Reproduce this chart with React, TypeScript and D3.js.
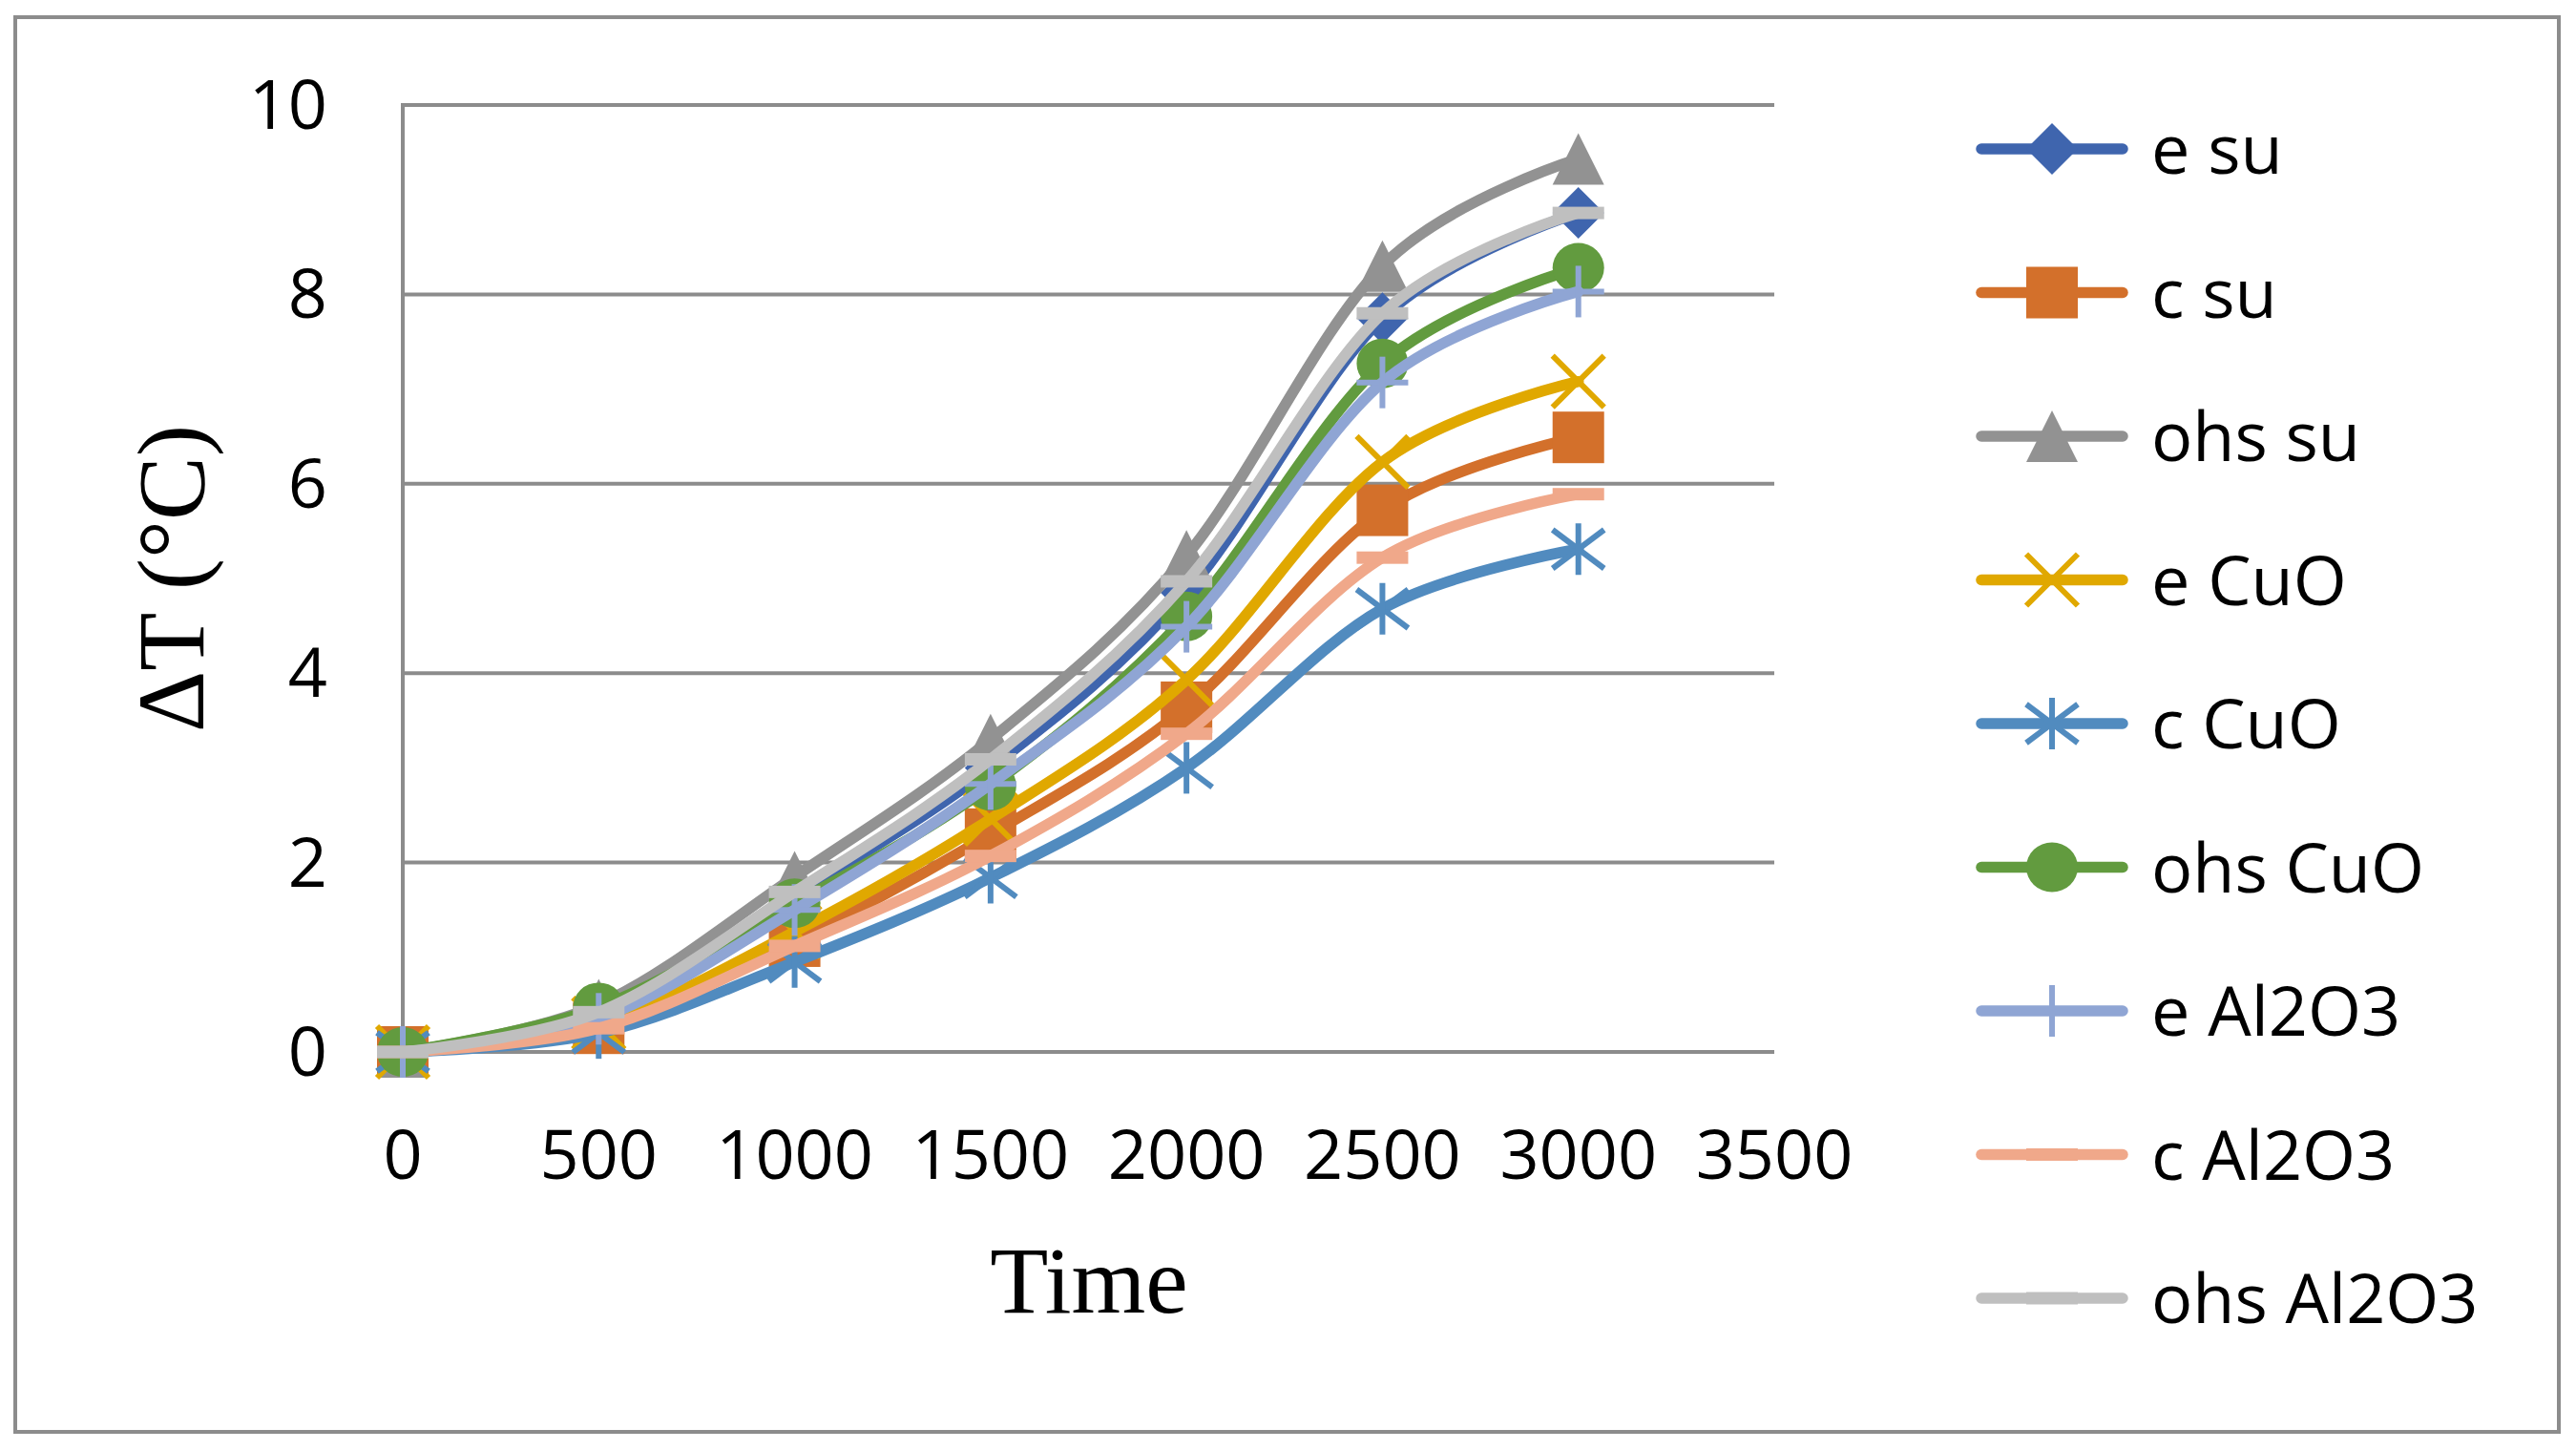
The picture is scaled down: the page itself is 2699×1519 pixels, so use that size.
import React from 'react';
import * as d3 from 'd3';

// time steps on the x axis
const times = [0, 500, 1000, 1500, 2000, 2500, 3000];

// delta T series (°C)
const eSu = [0, 0.4, 1.65, 3.0, 4.85, 7.75, 8.86];
const cSu = [0, 0.25, 1.17, 2.3, 3.64, 5.72, 6.49];
const ohsSu = [0, 0.5, 1.85, 3.3, 5.24, 8.3, 9.43];
const eCuO = [0, 0.3, 1.27, 2.46, 3.93, 6.23, 7.08];
const cCuO = [0, 0.2, 0.95, 1.84, 3.0, 4.68, 5.31];
const ohsCuO = [0, 0.47, 1.57, 2.81, 4.6, 7.27, 8.28];
const eAl2O3 = [0, 0.35, 1.5, 2.83, 4.49, 7.07, 8.03];
const cAl2O3 = [0, 0.25, 1.12, 2.07, 3.36, 5.22, 5.89];
const ohsAl2O3 = [0, 0.42, 1.69, 3.09, 4.97, 7.8, 8.86];

const seriesNames = ['e su', 'c su', 'ohs su', 'e CuO', 'c CuO', 'ohs CuO', 'e Al2O3', 'c Al2O3', 'ohs Al2O3'];
const seriesValues = [eSu, cSu, ohsSu, eCuO, cCuO, ohsCuO, eAl2O3, cAl2O3, ohsAl2O3];
const seriesColors = ['#3F65AE', '#D3702B', '#929292', '#E0A800', '#518BBF', '#629B3F', '#8FA5D4', '#F0A88A', '#BFBFBF'];
const seriesMarkers = ['diamond', 'square', 'triangle', 'x', 'star', 'circle', 'plus', 'dash', 'dash'];

const xTicks = [0, 500, 1000, 1500, 2000, 2500, 3000, 3500];
const yTicks = [0, 2, 4, 6, 8, 10];

const W = 2699;
const H = 1519;
const plot = { left: 422, right: 1859, top: 110, bottom: 1102 };
const gridColor = '#8C8C8C';
const tickFont = "'Open Sans', 'Noto Sans', sans-serif";
const titleFont = "'Liberation Serif', 'Times New Roman', serif";

const Marker = ({ type, color, x, y }) => {
    const r = 27;
    const t = `translate(${x},${y})`;
    if (type === 'diamond') return <path transform={t} d={`M0,${-r}L${r},0L0,${r}L${-r},0Z`} fill={color} />;
    if (type === 'square') return <rect transform={t} x={-r} y={-r} width={2 * r} height={2 * r} fill={color} />;
    if (type === 'triangle') return <path transform={t} d={`M0,${-r}L${r},${r}L${-r},${r}Z`} fill={color} />;
    if (type === 'circle') return <ellipse transform={t} rx={r} ry={r - 1} fill={color} />;
    if (type === 'dash') return <rect transform={t} x={-r} y={-6.5} width={2 * r} height={13} fill={color} />;
    const sw = 6;
    if (type === 'x') {
        return (
            <g transform={t} stroke={color} strokeWidth={sw}>
                <line x1={-r} y1={-r} x2={r} y2={r} />
                <line x1={-r} y1={r} x2={r} y2={-r} />
            </g>
        );
    }
    if (type === 'star') {
        return (
            <g transform={t} stroke={color} strokeWidth={sw}>
                <line x1={-r} y1={-r * 0.75} x2={r} y2={r * 0.75} />
                <line x1={-r} y1={r * 0.75} x2={r} y2={-r * 0.75} />
                <line x1={0} y1={-r} x2={0} y2={r} />
            </g>
        );
    }
    // plus
    return (
        <g transform={t} stroke={color} strokeWidth={sw}>
            <line x1={-r} y1={0} x2={r} y2={0} />
            <line x1={0} y1={-r} x2={0} y2={r} />
        </g>
    );
};

export default function App() {
    const x = d3.scaleLinear().domain([0, 3500]).range([plot.left, plot.right]);
    const y = d3.scaleLinear().domain([0, 10]).range([plot.bottom, plot.top]);

    const line = d3.line<number>()
        .x((_, i) => x(times[i]))
        .y(d => y(d))
        .curve(d3.curveCardinal.tension(0));

    const legendX = 2076;
    const legendTop = 156;
    const legendStep = 150.5;

    return (
        <svg width={W} height={H} style={{ position: 'absolute', left: 0, top: 0, background: '#fff' }}>
            <rect x={0} y={0} width={W} height={H} fill="#fff" />
            {/* outer frame */}
            <rect x={16} y={18} width={2681 - 16} height={1500 - 18} fill="none" stroke={gridColor} strokeWidth={4} />

            {/* grid */}
            {yTicks.map(t => (
                <line key={t} x1={plot.left} x2={plot.right} y1={y(t)} y2={y(t)} stroke={gridColor} strokeWidth={4} />
            ))}
            <line x1={plot.left} x2={plot.left} y1={plot.top - 2} y2={plot.bottom + 2} stroke={gridColor} strokeWidth={4} />

            {/* tick labels */}
            {yTicks.map(t => (
                <text key={t} x={343} y={y(t) + 25} textAnchor="end" fontFamily={tickFont} fontSize={72} fill="#000">{t}</text>
            ))}
            {xTicks.map(t => (
                <text key={t} x={x(t)} y={plot.bottom + 133} textAnchor="middle" fontFamily={tickFont} fontSize={72} fill="#000">{t}</text>
            ))}

            {/* axis titles */}
            <text transform="translate(213,606) rotate(-90)" textAnchor="middle" fontFamily={titleFont} fontSize={100} fill="#000">ΔT (°C)</text>
            <text x={1141} y={1375} textAnchor="middle" fontFamily={titleFont} fontSize={100} fill="#000">Time</text>

            {/* series */}
            {seriesValues.map((vals, s) => (
                <g key={seriesNames[s]}>
                    <path d={line(vals) || ''} fill="none" stroke={seriesColors[s]} strokeWidth={11.5} strokeLinecap="round" strokeLinejoin="round" />
                    {vals.map((v, i) => (
                        <Marker key={i} type={seriesMarkers[s]} color={seriesColors[s]} x={x(times[i])} y={y(v)} />
                    ))}
                </g>
            ))}

            {/* legend */}
            {seriesNames.map((name, s) => {
                const cy = legendTop + s * legendStep;
                return (
                    <g key={name}>
                        <line x1={legendX} x2={legendX + 148} y1={cy} y2={cy} stroke={seriesColors[s]} strokeWidth={11.5} strokeLinecap="round" />
                        <Marker type={seriesMarkers[s]} color={seriesColors[s]} x={legendX + 74} y={cy} />
                        <text x={2254} y={cy + 26} fontFamily={tickFont} fontSize={72} fill="#000">{name}</text>
                    </g>
                );
            })}
        </svg>
    );
}
